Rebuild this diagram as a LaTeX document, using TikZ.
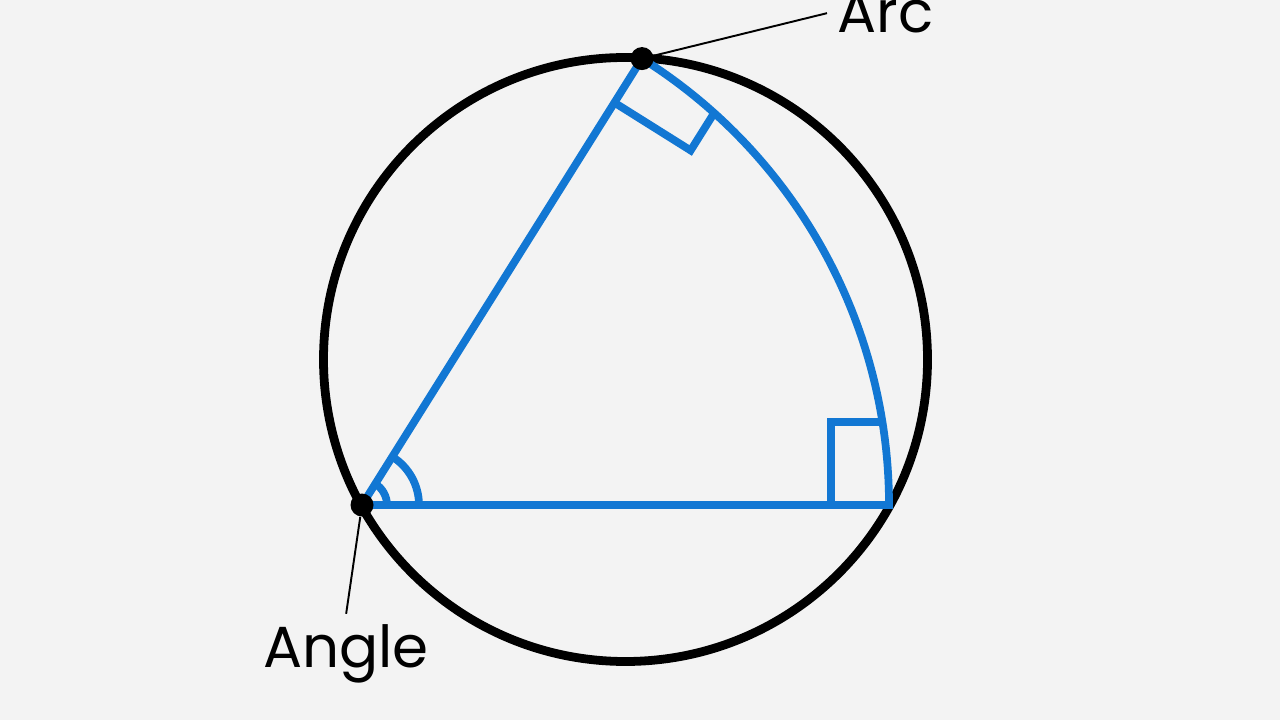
\documentclass[tikz,border=0pt]{standalone}
\usepackage{fontspec}
\setmainfont{Poppins}
\usetikzlibrary{calc}
\definecolor{bgray}{HTML}{F3F3F3}
\definecolor{arcblue}{HTML}{1277D3}
\tikzstyle{rim}=[draw=black, line width=5pt]
\tikzstyle{side}=[draw=arcblue, line width=4.4pt]
\tikzstyle{lead}=[draw=black, line width=1.1pt]
\tikzstyle{dot}=[circle, fill=black, inner sep=0pt, minimum size=0.46cm]
\tikzstyle{tag}=[font=\fontsize{33}{38}\selectfont, inner sep=0.2cm, anchor=base west]

\begin{document}
\begin{tikzpicture}[x=0.02cm,y=0.02cm]
        \fill[bgray] (0,0) rectangle (1280,720);
        \useasboundingbox (0,0) rectangle (1280,720);
        \clip (0,0) rectangle (1280,720);
        \coordinate (O) at (625.5,360.5);
        \coordinate (A) at (362,215);
        \coordinate (B) at (889,215);
        \coordinate (T) at ($(A)+(57.9:527)$);

        \draw[rim] (O) circle[radius=302];
        \draw[side] (T) -- (A) -- (B) arc[start angle=0, end angle=57.9, radius=527];
        \draw[side] ($(B)+(-58,0)$) -- ++(0,83) -- ++(51,0);
        \draw[side, shift={(T)}, rotate=-32.1] (0,-52) -- (90,-52) -- (90,-8);
        \draw[side] ($(A)+(57,0)$) arc[start angle=0, end angle=57.9, radius=57];
        \draw[side] ($(A)+(25,0)$) arc[start angle=0, end angle=57.9, radius=25];

        \node[dot] (Tdot) at (T) {};
        \node[dot] (Adot) at (A) {};
        \node[tag] (arclabel) at (827,687) {Arc};
        \node[tag] (anglelabel) at (253,53) {Angle};
        \draw[lead] (Tdot) -- (arclabel.west);
        \draw[lead] (Adot) -- (anglelabel.north);
\end{tikzpicture}
\end{document}
